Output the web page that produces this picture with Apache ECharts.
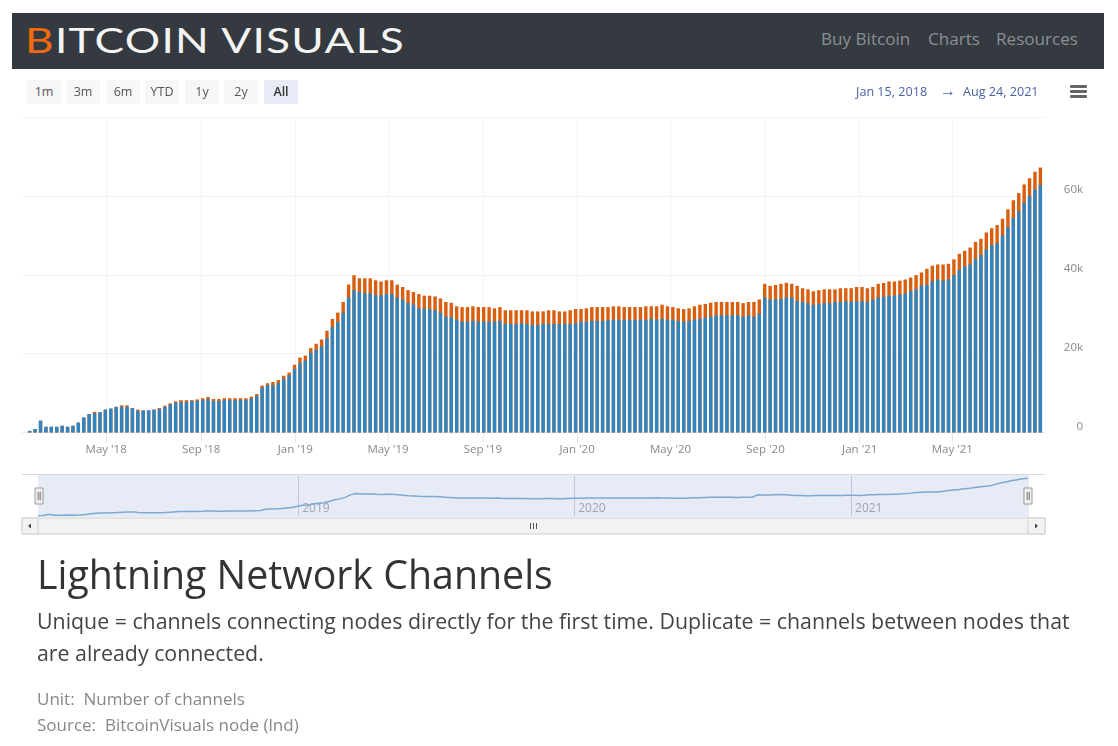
<!DOCTYPE html>
<html>
<head>
<meta charset="utf-8">
<title>Lightning Network Channels</title>
<script src="https://cdn.jsdelivr.net/npm/echarts@6/dist/echarts.min.js"></script>
<style>
html, body { margin: 0; padding: 0; background: #fff; overflow: hidden; font-family: "Open Sans", sans-serif; }
#chart { position: absolute; left: 0; top: 0; width: 1118px; height: 746px; }
.abs { position: absolute; white-space: nowrap; }
#header { left: 12px; top: 13px; width: 1092px; height: 56px; background: #343a40; }
#logo { left: 25px; top: 20px; font-family: "Lato", sans-serif; font-size: 34px; line-height: 40px; color: #f4f4f4; transform-origin: left center; transform: scaleX(1.3); letter-spacing: 1px; }
#logo b { color: #f26a10; font-weight: 400; }
.nav { top: 27px; font-size: 17.1px; line-height: 24px; color: #8b9095; }
.btn { top: 80px; height: 24px; line-height: 24px; width: 34px; text-align: center; font-size: 12.5px; color: #555; background: #f7f7f7; border-radius: 2px; }
.btn.on { background: #e6ebf5; color: #333; font-weight: 600; }
.range { top: 83px; font-size: 12.6px; line-height: 18px; color: #4a62a8; }
.burger { left: 1070px; width: 17px; height: 3px; background: #666; border-radius: 1px; }
#title { left: 37px; top: 546px; font-size: 39.3px; line-height: 56px; color: #333; }
.para { left: 37px; font-size: 21.33px; line-height: 32px; color: #444; }
.meta { left: 37px; font-size: 17px; line-height: 24px; color: #888; }
</style>
</head>
<body>
<div id="chart"></div>
<div class="abs" id="header"></div>
<div class="abs" id="logo"><b>B</b>ITCOIN VISUALS</div>
<div class="abs nav" style="left:821px">Buy Bitcoin</div>
<div class="abs nav" style="left:928px">Charts</div>
<div class="abs nav" style="left:996px">Resources</div>
<div class="abs btn" style="left:27px">1m</div>
<div class="abs btn" style="left:66px">3m</div>
<div class="abs btn" style="left:106px">6m</div>
<div class="abs btn" style="left:145px">YTD</div>
<div class="abs btn" style="left:185px">1y</div>
<div class="abs btn" style="left:224px">2y</div>
<div class="abs btn on" style="left:264px">All</div>
<div class="abs range" style="left:856px">Jan 15, 2018</div>
<div class="abs range" style="left:940px;top:81px;font-size:16px">&#8594;</div>
<div class="abs range" style="left:963px">Aug 24, 2021</div>
<div class="abs burger" style="top:85px"></div>
<div class="abs burger" style="top:90px"></div>
<div class="abs burger" style="top:95px"></div>
<div class="abs" id="title">Lightning Network Channels</div>
<div class="abs para" style="top:605px">Unique = channels connecting nodes directly for the first time. Duplicate = channels between nodes that</div>
<div class="abs para" style="top:637px">are already connected.</div>
<div class="abs meta" style="top:687px">Unit:&nbsp; Number of channels</div>
<div class="abs meta" style="top:713px">Source:&nbsp; BitcoinVisuals node (lnd)</div>
<script>
// first weekly bar, one bar per week after that
var firstWeek = Date.UTC(2018, 0, 22);
var weekMs = 7 * 24 * 3600 * 1000;

// thousands of channels
var uniqueK = [
    0.4, 0.85, 3.0, 1.45, 1.45, 1.45, 1.7, 1.45, 1.7, 2.5, 3.8, 4.7,
    4.9, 5.15, 5.8, 6.05, 6.5, 6.5, 6.5, 6.2, 5.5, 5.6,
    5.6, 5.8, 5.9, 6.5, 7.1, 7.45, 7.7, 7.7, 8.0, 8.0,
    8.2, 8.5, 8.0, 8.0, 8.2, 8.2, 8.2, 8.2, 8.3, 8.6,
    9.3, 11.4, 12.0, 12.0, 12.5, 13.6, 14.5, 16.1, 17.6, 18.2,
    20.2, 21.0, 21.8, 23.9, 26.7, 28.0, 30.3, 34.2, 36.1, 35.6,
    35.3, 35.3, 34.8,
    34.8, 35.1, 35.1, 34.2, 33.7, 32.9, 32.4, 31.5,
    31.4, 31.3, 31.0, 30.4, 29.4, 29.2, 28.6, 28.1, 28.1, 28.3, 28.1, 28.1, 28.1, 28.1, 28.3,
    27.5, 27.5, 27.5, 27.7, 27.5, 27.2, 27.2, 27.5, 27.5, 27.5, 27.5, 27.5, 27.5, 27.7,
    28.1, 28.1, 28.3, 28.3, 28.3, 28.6, 28.6, 28.6, 28.6, 28.6, 28.6, 28.6, 28.6, 28.8, 28.6,
    28.8, 28.6, 28.6, 28.3, 28.1, 28.3, 28.6, 28.8, 29.1, 29.4, 29.7, 29.7, 29.7,
    29.7, 29.7, 29.3, 29.7, 29.3, 30.1, 34.2, 33.7, 33.7, 33.9, 34.2, 34.2, 33.3, 33.1, 32.8, 32.3, 32.6, 32.8, 32.8,
    33.1, 33.1, 33.3, 33.1, 33.3, 33.3, 33.1, 33.7, 34.2, 34.4, 34.7, 34.7, 35.0, 35.2, 35.8, 36.3,
    37.2, 37.4, 38.3, 38.8, 38.5, 38.8, 39.9, 41.2, 42.1, 42.6, 43.9, 45.0, 46.4, 47.5, 48.0,
    50.0, 52.1, 54.3, 56.1, 58.3, 60.0, 61.6, 62.7
];
var totalK = [
    0.4, 0.85, 3.0, 1.45, 1.45, 1.45, 1.7, 1.45, 1.7, 2.5, 3.8, 4.7,
    5.25, 5.15, 5.8, 6.05, 6.5, 6.9, 6.9, 6.2, 5.8, 5.6,
    5.6, 5.8, 6.2, 6.8, 7.4, 7.9, 8.2, 8.2, 8.2, 8.4,
    8.7, 9.0, 8.5, 8.5, 8.7, 8.7, 8.7, 8.7, 8.7, 9.1,
    9.75, 11.9, 12.5, 12.8, 13.3, 14.4, 15.2, 17.2, 19.0, 19.5,
    21.4, 22.5, 23.6, 25.8, 28.8, 30.4, 33.1, 37.5, 39.9, 39.1,
    39.1, 39.1, 38.6,
    38.3, 38.6, 38.6, 37.5, 36.9, 36.1, 35.6, 35.1,
    34.7, 34.7, 34.5, 34.0, 33.1, 32.9, 32.0, 31.8, 31.8, 32.0, 31.8, 31.8, 31.8, 31.5, 31.8,
    31.0, 31.0, 31.0, 31.0, 31.0, 30.7, 30.7, 30.7, 31.0, 31.0, 30.7, 30.7, 31.0, 31.3,
    31.3, 31.5, 31.8, 31.8, 31.8, 31.8, 32.0, 32.0, 31.8, 31.8, 31.8, 31.8, 32.0, 32.0, 32.0,
    32.4, 32.0, 31.8, 31.5, 31.3, 31.5, 32.0, 32.4, 32.6, 32.9, 33.1, 33.1, 33.1,
    33.1, 33.1, 32.8, 33.1, 33.1, 33.7, 37.7, 37.2, 37.4, 37.7, 38.0, 37.7, 37.2, 36.6, 36.3, 35.8, 36.1, 36.3, 36.3,
    36.3, 36.6, 36.6, 36.6, 36.9, 36.9, 36.6, 36.9, 37.7, 37.9, 38.3, 38.3, 38.5, 38.8, 39.3, 39.9,
    40.6, 41.5, 42.3, 42.6, 42.6, 42.8, 43.9, 45.3, 46.1, 46.9, 48.3, 49.1, 50.7, 51.8, 52.6,
    54.2, 56.6, 58.9, 60.7, 62.9, 64.5, 66.1, 67.2
];

var tickDates = ['2018-05-01', '2018-09-01', '2019-01-01', '2019-05-01', '2019-09-01', '2020-01-01', '2020-05-01', '2020-09-01', '2021-01-01', '2021-05-01'];
var tickLabels = ["May '18", "Sep '18", "Jan '19", "May '19", "Sep '19", "Jan '20", "May '20", "Sep '20", "Jan '21", "May '21"];
var yearDates = ['2019-01-01', '2020-01-01', '2021-01-01'];
var yearLabels = ['2019', '2020', '2021'];

var tickTimes = tickDates.map(function (d) { return Date.parse(d); });
var yearTimes = yearDates.map(function (d) { return Date.parse(d); });

function weekly(values) {
    return values.map(function (v, i) {
        return [firstWeek + i * weekMs, v];
    });
}

var labelFont = '"Open Sans", sans-serif';
var handle = 'path://M0,0H8V16H0Z M3,4H3.6V12H3Z M5,4H5.6V12H5Z';

var myChart = echarts.init(document.getElementById('chart'), null, { renderer: 'canvas' });
// the x axes are value axes holding timestamps, a time axis breaks on customValues.
// stack does not work on a value axis, so orange = total sits behind blue = unique
myChart.setOption({
    animation: false,
    backgroundColor: '#fff',
    grid: [
        { left: 22, right: 73, top: 117, height: 315.5 },
        { left: 38, right: 90, top: 476, height: 40 }
    ],
    xAxis: [{
        type: 'value',
        gridIndex: 0,
        scale: true,
        min: Date.UTC(2018, 0, 12),
        max: Date.UTC(2021, 7, 29),
        axisLine: { show: true, lineStyle: { color: '#eeeeee' } },
        axisTick: { show: true, customValues: tickTimes, length: 10, lineStyle: { color: '#e6e6e6' } },
        splitLine: { show: true, lineStyle: { color: '#f3f3f3' } },
        axisLabel: {
            customValues: tickTimes,
            color: '#888',
            fontFamily: labelFont,
            fontSize: 11.5,
            margin: 11,
            showMinLabel: true,
            showMaxLabel: true,
            formatter: function (v) { return tickLabels[tickTimes.indexOf(v)]; }
        }
    }, {
        type: 'value',
        gridIndex: 1,
        scale: true,
        min: firstWeek,
        max: firstWeek + (uniqueK.length - 1) * weekMs,
        axisLine: { show: false },
        axisTick: { customValues: yearTimes, show: false },
        splitLine: { show: true, lineStyle: { color: '#cfd3da' } },
        axisLabel: {
            customValues: yearTimes,
            inside: true,
            color: '#aaa',
            fontFamily: labelFont,
            fontSize: 12,
            margin: 1,
            align: 'left',
            padding: [0, 0, 0, 4],
            formatter: function (v) { return yearLabels[yearTimes.indexOf(v)]; }
        }
    }],
    yAxis: [{
        type: 'value',
        gridIndex: 0,
        position: 'right',
        min: 0,
        max: 80,
        interval: 20,
        axisLine: { show: false },
        axisTick: { show: false },
        splitLine: { lineStyle: { color: '#f3f3f3' } },
        axisLabel: {
            color: '#888',
            fontFamily: labelFont,
            fontSize: 11.5,
            margin: 38,
            align: 'right',
            verticalAlign: 'bottom',
            formatter: function (v) { return v === 80 ? '' : (v === 0 ? '0' : v + 'k'); }
        }
    }, {
        type: 'value',
        gridIndex: 1,
        min: 0,
        max: 71,
        show: false
    }],
    dataZoom: [{
        type: 'slider',
        xAxisIndex: 0,
        filterMode: 'none',
        left: 37,
        right: 90,
        top: 475,
        height: 42,
        start: 0,
        end: 100,
        showDetail: false,
        showDataShadow: false,
        brushSelect: false,
        moveHandleSize: 0,
        borderColor: 'transparent',
        fillerColor: 'rgba(102,133,194,0.16)',
        handleIcon: handle,
        handleSize: 16,
        handleStyle: { color: '#f2f2f2', borderColor: '#999', borderWidth: 1 }
    }],
    graphic: [
        { type: 'line', z: 5, shape: { x1: 22, y1: 474.5, x2: 1045, y2: 474.5 }, style: { stroke: '#d8d8d8', lineWidth: 1 } },
        { type: 'rect', z: 5, shape: { x: 22, y: 518, width: 1023, height: 16 }, style: { fill: '#f2f2f2', stroke: '#cfcfcf', lineWidth: 1 } },
        { type: 'rect', z: 6, shape: { x: 22, y: 518, width: 16, height: 16 }, style: { fill: '#f2f2f2', stroke: '#cfcfcf', lineWidth: 1 } },
        { type: 'rect', z: 6, shape: { x: 1028, y: 518, width: 17, height: 16 }, style: { fill: '#f2f2f2', stroke: '#cfcfcf', lineWidth: 1 } },
        { type: 'polygon', z: 7, shape: { points: [[28, 526], [31, 523.5], [31, 528.5]] }, style: { fill: '#444' } },
        { type: 'polygon', z: 7, shape: { points: [[1038, 526], [1035, 523.5], [1035, 528.5]] }, style: { fill: '#444' } },
        { type: 'rect', z: 7, shape: { x: 530, y: 523, width: 1, height: 6 }, style: { fill: '#555' } },
        { type: 'rect', z: 7, shape: { x: 533, y: 523, width: 1, height: 6 }, style: { fill: '#555' } },
        { type: 'rect', z: 7, shape: { x: 536, y: 523, width: 1, height: 6 }, style: { fill: '#555' } }
    ],
    series: [{
        name: 'Duplicate',
        type: 'bar',
        xAxisIndex: 0,
        yAxisIndex: 0,
        barWidth: 3.4,
        barGap: '-100%',
        itemStyle: { color: '#d95f0e' },
        data: weekly(totalK)
    }, {
        name: 'Unique',
        type: 'bar',
        xAxisIndex: 0,
        yAxisIndex: 0,
        barWidth: 3.4,
        barGap: '-100%',
        itemStyle: { color: '#3084bf' },
        data: weekly(uniqueK)
    }, {
        name: 'Total',
        type: 'line',
        xAxisIndex: 1,
        yAxisIndex: 1,
        symbol: 'none',
        lineStyle: { color: '#7fb2d9', width: 1.5 },
        data: weekly(totalK)
    }]
});
</script>
</body>
</html>
